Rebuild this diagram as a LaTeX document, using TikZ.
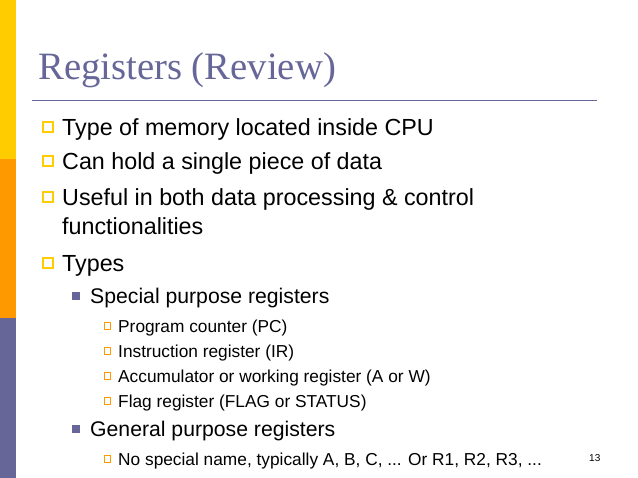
\documentclass[tikz,border=0pt]{standalone}
\usepackage{fontspec}
\setmainfont{Liberation Sans}
\newfontfamily\titlefont{Liberation Serif}
\definecolor{cyel}{HTML}{FFCC00}
\definecolor{corg}{HTML}{FF9900}
\definecolor{cpur}{HTML}{666699}
\begin{document}
\begin{tikzpicture}[x=1pt,y=-1pt,
  t1/.style={anchor=base west,inner sep=0pt,font=\fontsize{23.3}{28}\selectfont},
  t2/.style={anchor=base west,inner sep=0pt,font=\fontsize{21.2}{24}\selectfont},
  t3/.style={anchor=base west,inner sep=0pt,font=\fontsize{17.3}{19}\selectfont},
  b1/.style={draw=cyel,line width=1.6pt,fill=white},
  b2/.style={fill=cpur},
  b3/.style={draw=corg,line width=1pt,fill=white}]
\useasboundingbox (0,0) rectangle (638,478);
\fill[white] (0,0) rectangle (638,478);
\fill[cyel] (0,0) rectangle (16,159);
\fill[corg] (0,159) rectangle (16,318);
\fill[cpur] (0,318) rectangle (16,478);
\node[anchor=base west,inner sep=0pt,text=cpur,font=\titlefont\fontsize{38.7}{40}\selectfont] (title) at (38,80) {Registers (Review)};
\draw[cpur,line width=1.2pt] (32,100.5) -- (597,100.5);
% level 1
\foreach \y in {136,170,206,272} \draw[b1] (43,\y-14) rectangle (53,\y-4);
\node[t1] (l1) at (62,136) {Type of memory located inside CPU};
\node[t1] (l2) at (62,170) {Can hold a single piece of data};
\node[t1] (l3) at (62,206) {Useful in both data processing \& control};
\node[t1] (l3b) at (62,235) {functionalities};
\node[t1] (l4) at (62,272) {Types};
% level 2
\foreach \y in {304,437} \fill[b2] (72,\y-12) rectangle (80,\y-4);
\node[t2] (s1) at (90,304) {Special purpose registers};
\node[t2] (s2) at (90,437) {General purpose registers};
% level 3
\foreach \y in {333,358,383,408,466} \draw[b3] (104,\y-10) rectangle (110.5,\y-3.5);
\node[t3] (a1) at (118,333) {Program counter (PC)};
\node[t3] (a2) at (118,358) {Instruction register (IR)};
\node[t3] (a3) at (118,383) {Accumulator or working register (A or W)};
\node[t3] (a4) at (118,408) {Flag register (FLAG or STATUS)};
\node[t3] (a5) at (118,466) {No special name, typically A, B, C, ... Or R1, R2, R3, ...};
\node[anchor=base west,inner sep=0pt,font=\fontsize{10}{12}\selectfont] (pg) at (589,462) {13};
\end{tikzpicture}
\end{document}
